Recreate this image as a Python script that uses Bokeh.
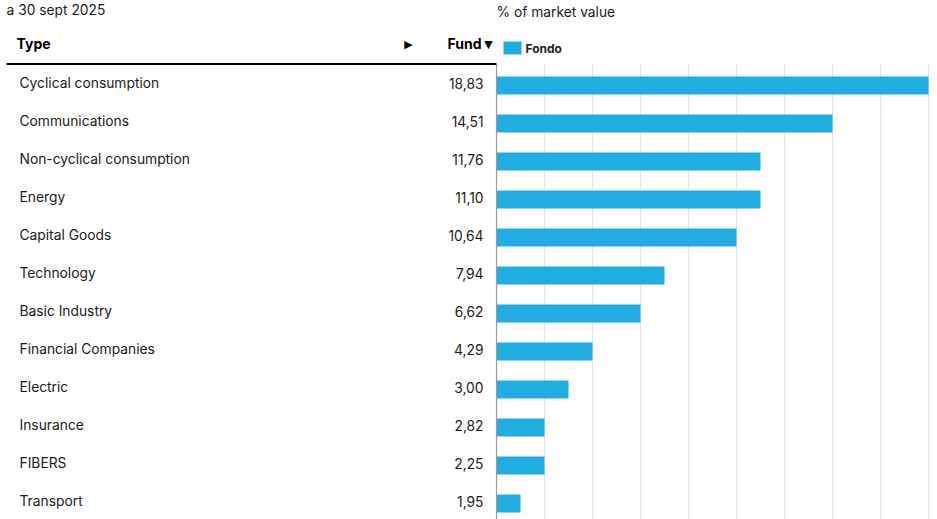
from bokeh.plotting import figure
from bokeh.models import Range1d, ColumnDataSource
from bokeh.core.properties import value
from bokeh.embed import file_html
from bokeh.resources import INLINE

# ---------------- data ----------------
as_of = "a 30 sept 2025"
axis_title = "% of market value"
series_name = "Fondo"
col_type = "Type"
col_fund = "Fund"
categories = [
    "Cyclical consumption", "Communications", "Non-cyclical consumption", "Energy",
    "Capital Goods", "Technology", "Basic Industry", "Financial Companies",
    "Electric", "Insurance", "FIBERS", "Transport",
]
fund_values = [18.83, 14.51, 11.76, 11.10, 10.64, 7.94, 6.62, 4.29, 3.00, 2.82, 2.25, 1.95]
# bar lengths as drawn in the picture (whole units)
bar_lengths = [18, 14, 11, 11, 10, 7, 6, 4, 3, 2, 2, 1]
grid_ticks = [0, 2, 4, 6, 8, 10, 12, 14, 16, 18]

# ---------------- layout ----------------
W, H = 937, 519
ORIGIN = 496          # pixel of x = 0
PX_PER_UNIT = 24
ROW0, ROW_STEP = 82.5, 38
TOP = 64
FONT = value("Inter")
BAR = "#22ade1"
TXT = "#1a1a1a"

def px(xp):
    return (xp - ORIGIN) / PX_PER_UNIT

p = figure(width=W, height=H, output_backend="svg", toolbar_location=None,
           x_range=Range1d(px(0), px(W)), y_range=Range1d(H, 0),
           x_axis_location=None, y_axis_location=None, min_border=0,
           outline_line_color=None)
p.grid.visible = False
p.background_fill_color = "white"
p.border_fill_color = "white"

n = len(categories)
rows_text = [ROW0 + ROW_STEP * i for i in range(n)]
rows_bar = [85 + ROW_STEP * i for i in range(n)]
labels = [f"{v:.2f}".replace(".", ",") for v in fund_values]

# grid
p.segment(x0=grid_ticks[1:], x1=grid_ticks[1:], y0=[TOP] * (len(grid_ticks) - 1),
          y1=[H] * (len(grid_ticks) - 1), line_color="#e3e3e3", line_width=1)

# bars
src = ColumnDataSource(dict(y=rows_bar, right=bar_lengths))
p.hbar(y="y", left=0, right="right", height=18, source=src, fill_color=BAR, line_color=None)

# axis line at zero
p.segment(x0=[0], x1=[0], y0=[TOP], y1=[H], line_color="#9a9a9a", line_width=1.2)

# header underline
p.segment(x0=[px(6)], x1=[px(ORIGIN)], y0=[63.5], y1=[63.5], line_color="black", line_width=2)

# table text
p.text(x=[px(19)] * n, y=rows_text, text=categories, text_font=FONT, text_font_size="13.8px",
       text_baseline="middle", text_align="left", text_color=TXT)
p.text(x=[px(483)] * n, y=rows_text, text=labels, text_font=FONT, text_font_size="13.8px",
       text_baseline="middle", text_align="right", text_color=TXT)

# headers
p.text(x=[px(6)], y=[9.5], text=[as_of], text_font=FONT, text_font_size="13.8px",
       text_baseline="middle", text_align="left", text_color=TXT)
p.text(x=[px(16)], y=[42.5], text=[col_type], text_font=FONT, text_font_size="14px",
       text_font_style="bold", text_baseline="middle", text_align="left", text_color="black")
p.text(x=[px(408)], y=[44], text=["\u25b6"], text_font=value("DejaVu Sans"), text_font_size="11px",
       text_baseline="middle", text_align="center", text_color="black")
p.text(x=[px(481)], y=[42.5], text=[col_fund], text_font=FONT, text_font_size="14px",
       text_font_style="bold", text_baseline="middle", text_align="right", text_color="black")
p.text(x=[px(488)], y=[43.5], text=["\u25bc"], text_font=value("DejaVu Sans"), text_font_size="11px",
       text_baseline="middle", text_align="center", text_color="black")
p.text(x=[px(496)], y=[11.5], text=[axis_title], text_font=FONT, text_font_size="13.8px",
       text_baseline="middle", text_align="left", text_color=TXT)

# legend
p.quad(left=[px(503)], right=[px(521)], top=[41], bottom=[54], fill_color=BAR, line_color=None)
p.text(x=[px(525)], y=[48], text=[series_name], text_font=FONT, text_font_size="12px",
       text_font_style="bold", text_baseline="middle", text_align="left", text_color="#222222")

open("out.html", "w").write(file_html(p, INLINE))
